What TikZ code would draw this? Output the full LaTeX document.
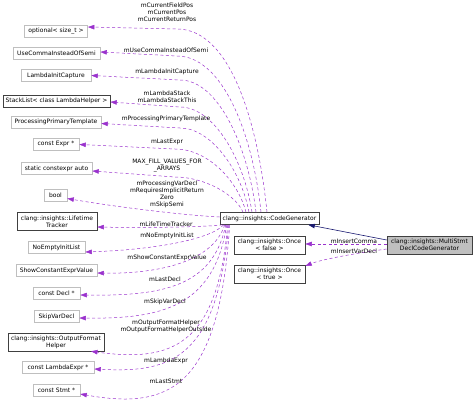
\documentclass[tikz,border=0pt]{standalone}
\usepackage{fontspec}
\setmainfont{DejaVu Sans}
\usetikzlibrary{arrows.meta}
\definecolor{dorch}{RGB}{154,50,205}
\definecolor{mblue}{RGB}{25,25,112}
\definecolor{gl}{RGB}{191,191,191}
\definecolor{gd}{RGB}{64,64,64}
\begin{document}
\begin{tikzpicture}[x=1pt,y=-1pt,
  every node/.style={font=\fontsize{6}{7}\selectfont, inner sep=0pt, align=center},
  ubox/.style={draw=gl, fill=white, line width=0.6pt, minimum height=12pt},
  dbox/.style={draw=gd, fill=white, line width=0.6pt, minimum height=12pt},
  tall/.style={minimum height=18pt},
  useedge/.style={draw=dorch, line width=0.5pt, dash pattern=on 3pt off 2.5pt, -{Triangle[length=6.5pt,width=4.5pt]}},
  inhedge/.style={draw=mblue, line width=0.6pt, -{Triangle[length=6.5pt,width=4.5pt]}}
]
\useasboundingbox (0,0) rectangle (474,410);
% left boxes
\node[ubox, minimum width=63] (opt) at (56,31) {optional< size\_t >};
\node[ubox, minimum width=87] (usec) at (56.5,53.5) {UseCommaInsteadOfSemi};
\node[ubox, minimum width=70] (lam) at (56,75.5) {LambdaInitCapture};
\node[dbox, minimum width=107] (stack) at (56.5,101) {StackList< class LambdaHelper >};
\node[ubox, minimum width=90] (proc) at (56,122) {ProcessingPrimaryTemplate};
\node[ubox, minimum width=46] (cexpr) at (56,144) {const Expr *};
\node[ubox, minimum width=71] (stat) at (56.5,168.5) {static constexpr auto};
\node[ubox, minimum width=23] (bool) at (55.5,195.5) {bool};
\node[dbox, tall, minimum width=80] (life) at (57,221.5) {clang::insights::Lifetime\\Tracker};
\node[ubox, minimum width=57] (noe) at (56.5,247.5) {NoEmptyInitList};
\node[ubox, minimum width=81] (show) at (56.5,270.5) {ShowConstantExprValue};
\node[ubox, minimum width=47] (cdecl) at (56.5,293.5) {const Decl *};
\node[ubox, minimum width=45] (skip) at (56.5,316.5) {SkipVarDecl};
\node[dbox, tall, minimum width=96] (outf) at (56,342) {clang::insights::OutputFormat\\Helper};
\node[ubox, minimum width=72] (clex) at (58,367.5) {const LambdaExpr *};
\node[ubox, minimum width=47] (cstmt) at (56.5,390) {const Stmt *};
% right boxes
\node[dbox, minimum width=99] (cg) at (269.5,218.5) {clang::insights::CodeGenerator};
\node[dbox, tall, minimum width=71] (oncef) at (269.5,245) {clang::insights::Once\\< false >};
\node[dbox, tall, minimum width=71] (oncet) at (269.5,274) {clang::insights::Once\\< true >};
\node[draw=gd, fill=gl, line width=0.6pt, tall, minimum width=85] (multi) at (429.5,245) {clang::insights::MultiStmt\\DeclCodeGenerator};
% top edges
\draw[useedge] ([xshift=-2.5pt]cg.north) .. controls (258,124) and (231,29) .. (177,29) -- ([yshift=4pt]opt.east);
\draw[useedge] ([xshift=-8.5pt]cg.north) .. controls (253,135) and (223,56) .. (177,56) -- ([yshift=1.5pt]usec.east);
\draw[useedge] ([xshift=-13.5pt]cg.north) .. controls (248,146) and (218,80) .. (180,80) -- (lam.east);
\draw[useedge] ([xshift=-17.5pt]cg.north) .. controls (244,160) and (214,107) .. (180,107) -- ([yshift=-1pt]stack.east);
\draw[useedge] ([xshift=-20.5pt]cg.north) .. controls (241,170) and (211,128) .. (180,128) -- ([yshift=-1.5pt]proc.east);
\draw[useedge] ([xshift=-23.5pt]cg.north) .. controls (238,181) and (208,149) .. (175,149) -- ([yshift=-0.5pt]cexpr.east);
\draw[useedge] ([xshift=-26.5pt]cg.north) .. controls (236,195) and (205,177) .. (175,177) -- ([yshift=-2.5pt]stat.east);
% left side edges
\draw[useedge] ([yshift=1.5pt]cg.west) .. controls (180,215) and (110,206) .. ([yshift=-3pt]bool.east);
\draw[useedge] ([xshift=3pt]cg.south west) .. controls (205,227) and (150,228) .. ([yshift=-5.5pt]life.east);
\draw[useedge] ([xshift=4pt]cg.south west) .. controls (210,240) and (150,250) .. ([yshift=-4.5pt]noe.east);
\draw[useedge] ([xshift=5pt]cg.south west) .. controls (212,265) and (150,274) .. ([yshift=-2.5pt]show.east);
\draw[useedge] ([xshift=6pt]cg.south west) .. controls (213,288) and (160,296) .. ([yshift=-1.5pt]cdecl.east);
\draw[useedge] ([xshift=7pt]cg.south west) .. controls (214,308) and (160,319) .. ([yshift=-1.5pt]skip.east);
\draw[useedge] ([xshift=8pt]cg.south west) .. controls (217,348) and (170,362) .. ([xshift=35pt]outf.south);
\draw[useedge] ([xshift=9pt]cg.south west) .. controls (217,360) and (170,373) .. ([yshift=-1.5pt]clex.east);
\draw[useedge] ([xshift=10pt]cg.south west) .. controls (219,388) and (170,410) .. ([yshift=-4pt]cstmt.east);
% right edges
\draw[inhedge] ([yshift=5pt]multi.west) -- ([xshift=-11pt]cg.south east);
\draw[useedge] ([yshift=1pt]multi.west) -- ([yshift=1pt]oncef.east);
\draw[useedge] ([yshift=-4pt]multi.west) .. controls (350,254) and (320,260) .. ([yshift=8pt]oncet.east);
% labels
\node (t1) at (167,12) {mCurrentFieldPos\\mCurrentPos\\mCurrentReturnPos};
\node (t2) at (166,50) {mUseCommaInsteadOfSemi};
\node (t3) at (167,72) {mLambdaInitCapture};
\node (t4) at (167,97) {mLambdaStack\\mLambdaStackThis};
\node (t5) at (166,119) {mProcessingPrimaryTemplate};
\node (t6) at (167,142) {mLastExpr};
\node (t7) at (167,165) {MAX\_FILL\_VALUES\_FOR\\\_ARRAYS};
\node (t8) at (167,194) {mProcessingVarDecl\\mRequiresImplicitReturn\\Zero\\mSkipSemi};
\node (t9) at (166,224) {mLifeTimeTracker};
\node (t10) at (167,236) {mNoEmptyInitList};
\node (t11) at (167,258) {mShowConstantExprValue};
\node (t12) at (165,279) {mLastDecl};
\node (t13) at (165,302) {mSkipVarDecl};
\node (t14) at (166,326.5) {mOutputFormatHelper\\mOutputFormatHelperOutside};
\node (t15) at (166,361) {mLambdaExpr};
\node (t16) at (166,381) {mLastStmt};
\node (t17) at (354,241) {mInsertComma};
\node (t18) at (354,251) {mInsertVarDecl};
\end{tikzpicture}
\end{document}
